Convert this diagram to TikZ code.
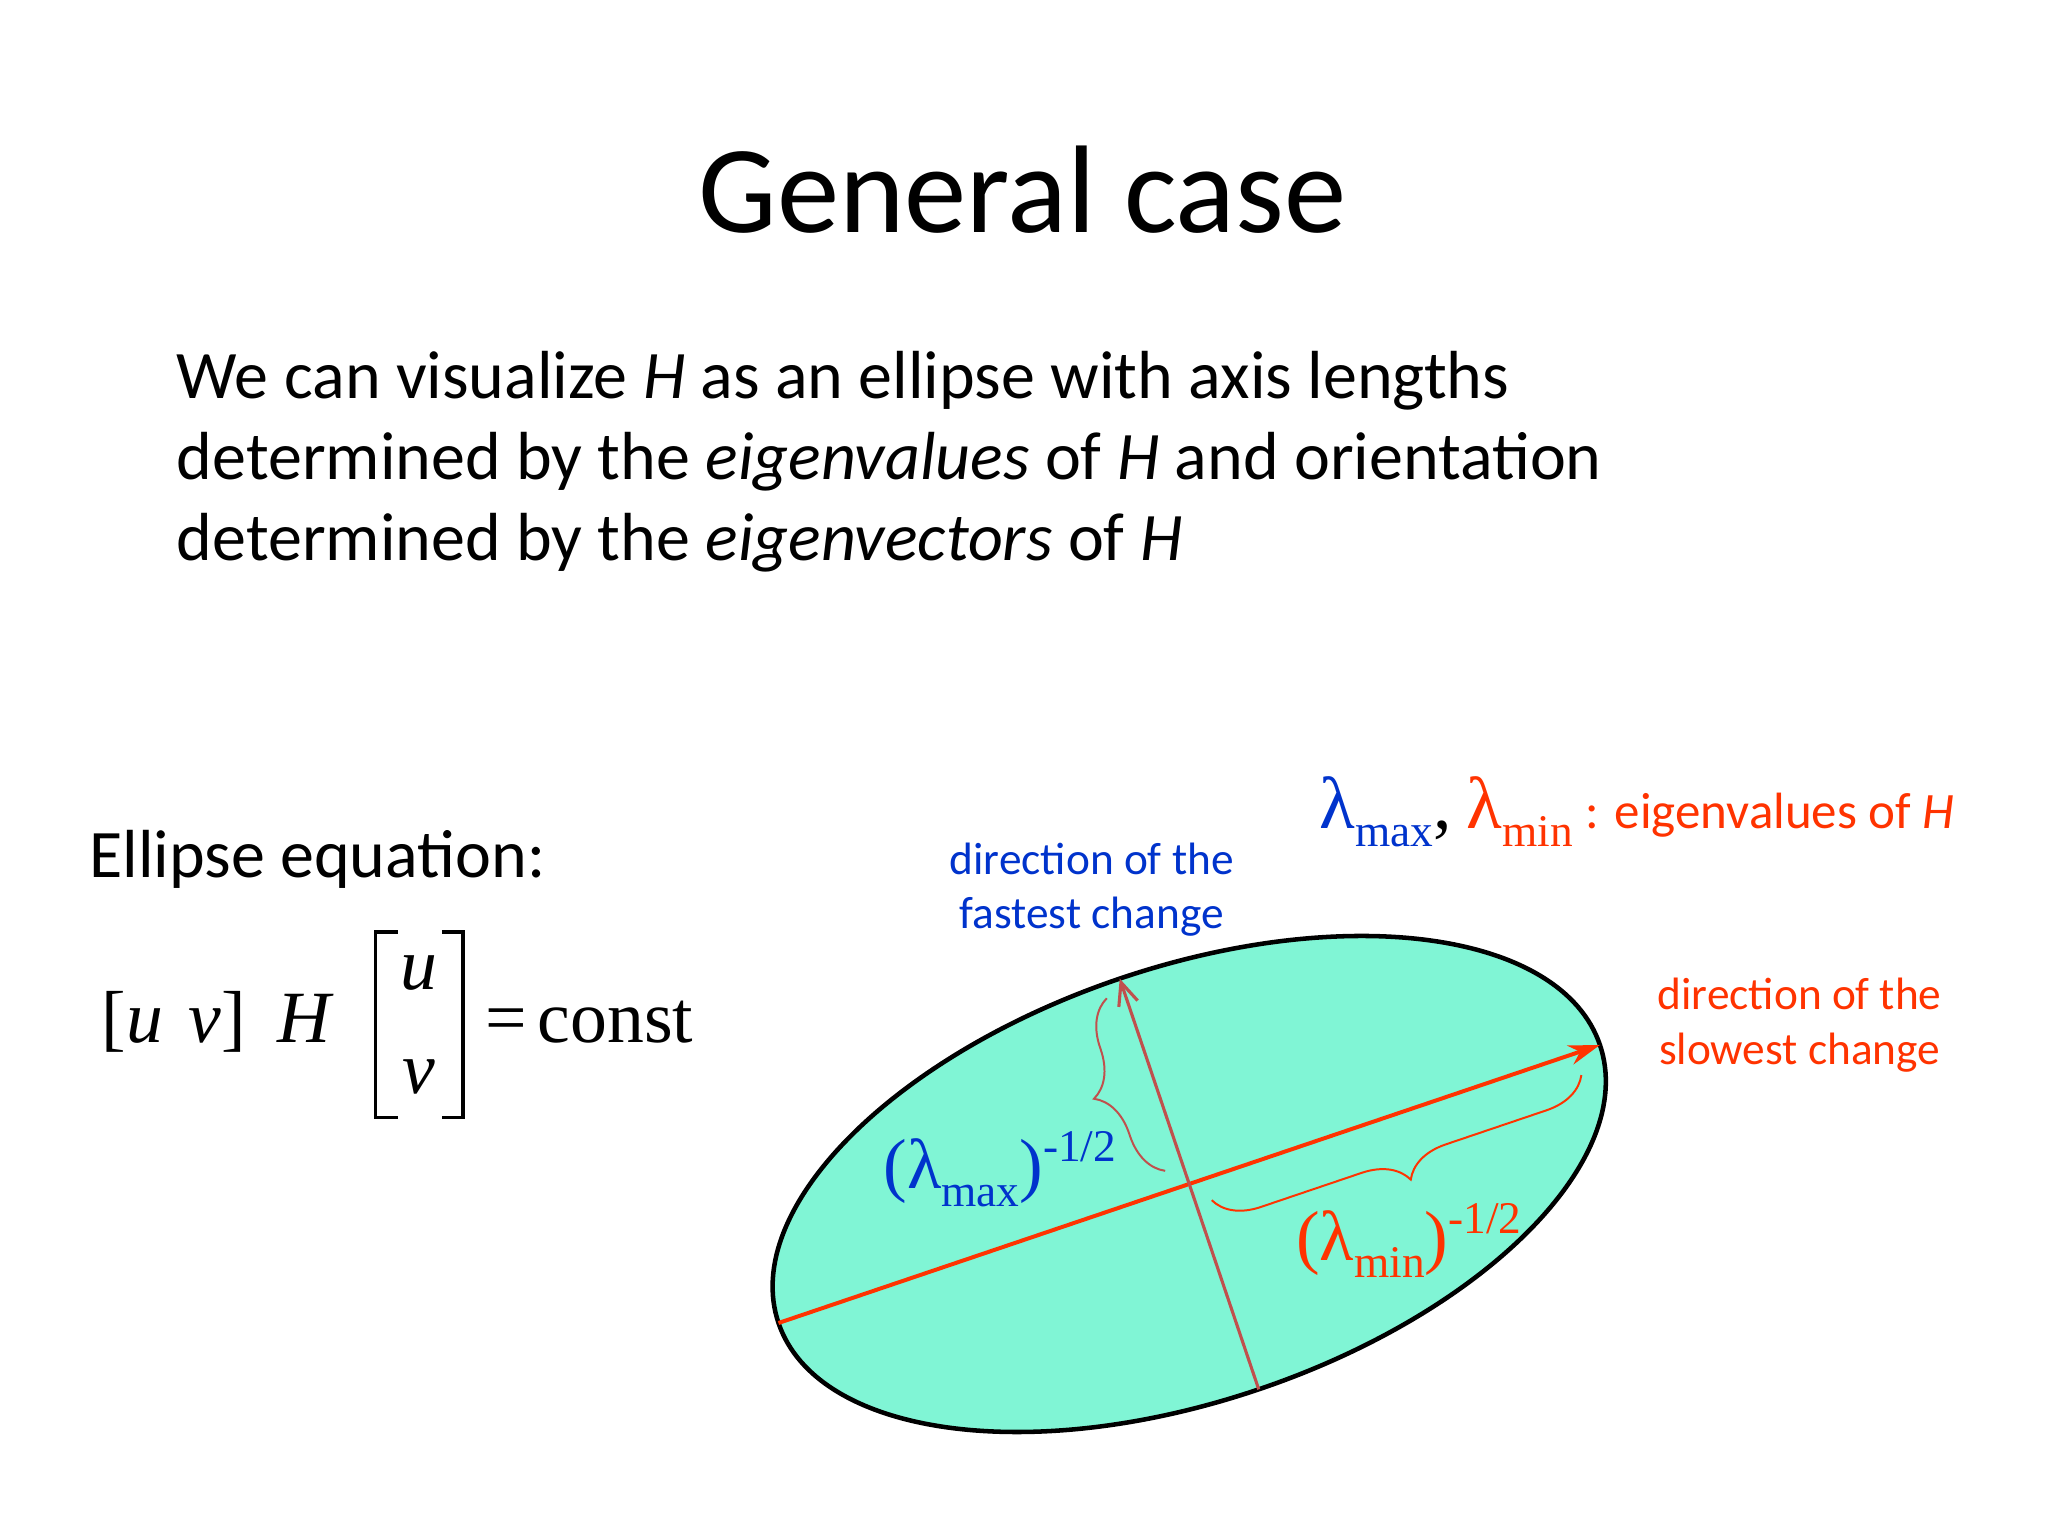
\documentclass[tikz,border=0pt]{standalone}
\usepackage{fontspec}
\setmainfont{Carlito}
\newfontfamily\timesfont{Liberation Serif}
\usetikzlibrary{arrows.meta,decorations.pathreplacing}
\definecolor{txtblue}{RGB}{0,51,204}
\definecolor{txtred}{RGB}{255,51,0}
\definecolor{axisbrown}{RGB}{192,80,77}
\definecolor{mint}{RGB}{128,245,213}
\newcommand{\lsub}[1]{\raisebox{-0.25em}{\fontsize{16}{16}\selectfont #1}}
\newcommand{\lsup}[1]{\raisebox{0.38em}{\fontsize{16}{16}\selectfont #1}}
\begin{document}
\begin{tikzpicture}[>=stealth, every node/.style={inner sep=0pt},
  dirtext/.style={font=\fontsize{16}{19.3}\selectfont, align=center, anchor=base},
  lamtext/.style={font=\timesfont\fontsize{25}{25}\selectfont, anchor=base west},
  eqtext/.style={font=\timesfont\fontsize{26}{36.7}\selectfont},
  brkt/.style={line width=1.2pt},
  lambrace/.style={line width=0.7pt, decorate, decoration={brace, amplitude=0.55cm}}]
\useasboundingbox[fill=white] (0,0) rectangle (25.4,-19.05);
\node[font=\fontsize{44}{53}\selectfont, anchor=base] (title) at (12.68,-2.883) {General case};
\node[font=\fontsize{24}{28.5}\selectfont, anchor=base west, align=left] (intro) at (2.187,-6.95)
  {We can visualize \textit{H} as an ellipse with axis lengths\\determined by the \textit{eigenvalues} of \textit{H} and orientation\\determined by the \textit{eigenvectors} of \textit{H}};
\node[font=\fontsize{24}{28.5}\selectfont, anchor=base west] (eqlabel) at (1.10,-10.886) {Ellipse equation:};
% ellipse equation
\node[eqtext, anchor=base west] (rowvec) at (1.255,-12.93) {[\textit{u}\hspace{0.35em}\textit{v}]};
\node[eqtext, anchor=base west] (hmat) at (3.434,-12.93) {\textit{H}};
\node[eqtext, align=center, minimum width=1.069cm, minimum height=2.284cm] (colvec) at (5.200,-12.708) {\textit{u}\\\textit{v}};
\draw[brkt] ([xshift=0.276cm]colvec.north west) -- (colvec.north west) -- (colvec.south west) -- ([xshift=0.276cm]colvec.south west);
\draw[brkt] ([xshift=-0.26cm]colvec.north east) -- (colvec.north east) -- (colvec.south east) -- ([xshift=-0.26cm]colvec.south east);
\node[eqtext, anchor=base west] (const) at (6.01,-12.93) {=\hspace{0.15em}const};
% ellipse and its axes
\begin{scope}[shift={(14.749,-14.684)}, rotate=18.7]
\draw[fill=mint, line width=1.6pt] (0,0) ellipse [x radius=5.378, y radius=2.689];
\coordinate (majL) at (-5.378,0);
\coordinate (majR) at (5.378,0);
\coordinate (minB) at (0,-2.689);
\coordinate (minT) at (0,2.689);
\coordinate (bmaxA) at (-0.23,0.25);
\coordinate (bmaxB) at (-0.23,2.51);
\coordinate (bminA) at (5.04,-0.28);
\coordinate (bminB) at (0.20,-0.28);
\end{scope}
\draw[txtred, line width=1.4pt, -{Stealth[length=11pt,width=7pt]}] (majL) -- (majR);
\draw[axisbrown, line width=1.1pt, -{Straight Barb[length=8pt,width=7pt]}] (minB) -- (minT);
\draw[axisbrown, lambrace] (bmaxA) -- (bmaxB);
\draw[txtred, lambrace] (bminA) -- (bminB);
\node[lamtext, txtblue] (lmax) at (10.95,-14.74) {(λ\lsub{max})\lsup{-1/2}};
\node[lamtext, txtred] (lmin) at (16.07,-15.63) {(λ\lsub{min})\lsup{-1/2}};
\node[dirtext, txtblue] (fast) at (13.54,-11.52) {direction of the\\fastest change};
\node[dirtext, txtred] (slow) at (22.32,-13.20) {direction of the\\slowest change};
\node[anchor=base west] (eigen) at (16.36,-10.27)
  {{\timesfont\fontsize{26}{26}\selectfont\textcolor{txtblue}{λ\lsub{max}},\hspace{0.2em}\textcolor{txtred}{λ\lsub{min}}}\hspace{0.45em}{\fontsize{18}{21.6}\selectfont\color{txtred}: eigenvalues of \textit{H}}};
\end{tikzpicture}
\end{document}
